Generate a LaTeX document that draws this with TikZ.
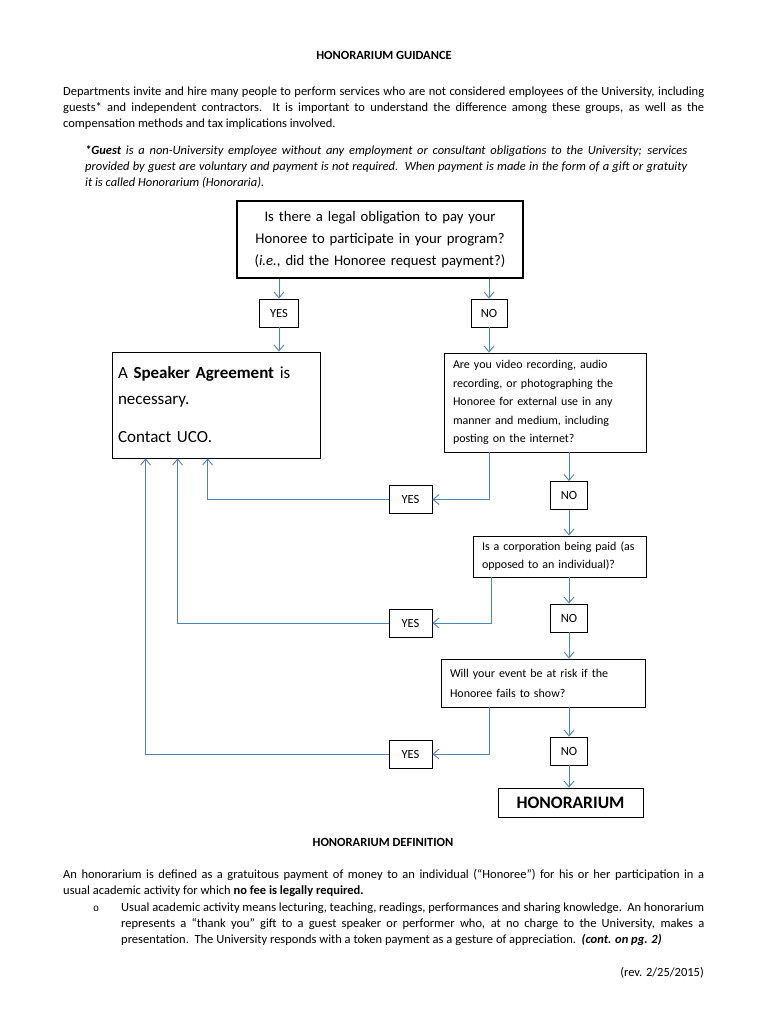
\documentclass[tikz,border=0pt]{standalone}
\usepackage{fontspec}
\setmainfont{Carlito}
\newfontfamily\bulletfont{Liberation Mono}
\usepackage{xcolor}
\usetikzlibrary{arrows.meta,positioning}
\definecolor{flowblue}{RGB}{79,129,189}

\begin{document}
\begin{tikzpicture}[
    x=1pt, y=-1pt,
    qbox/.style={rectangle, draw, line width=0.8pt, inner ysep=0pt, align=left, font=\fontsize{12}{18.5}\selectfont},
    tag/.style={rectangle, draw, line width=0.8pt, inner sep=0pt, minimum height=28pt, font=\fontsize{12.5}{14}\selectfont},
    arrow/.style={-{Straight Barb[length=6pt,width=10pt]}, draw=flowblue, line width=0.9pt},
    para/.style={anchor=base west, inner sep=0pt, align=justify, font=\fontsize{12.5}{16}\selectfont}
]
    \fill[white] (0,0) rectangle (768,1024);
    \useasboundingbox (0,0) rectangle (768,1024);

    % heading and introduction
    \node[anchor=base, font=\bfseries\fontsize{12.5}{15}\selectfont] (title) at (384,60) {HONORARIUM GUIDANCE};
    \node[para, text width=641pt] (intro) at (63,96) {Departments invite and hire many people to perform services who are not considered employees of the University, including\linebreak guests* and independent contractors.\ \ It is important to understand the difference among these groups, as well as the\linebreak compensation methods and tax implications involved.};
    \node[para, text width=602pt, font=\itshape\fontsize{12.5}{16}\selectfont] (guest) at (85,155) {\textbf{*Guest} is a non-University employee without any employment or consultant obligations to the University; services\linebreak provided by guest are voluntary and payment is not required.\ \ When payment is made in the form of a gift or gratuity\linebreak it is called Honorarium (Honoraria).};

    % flowchart
    \node[qbox, line width=2.5pt, minimum width=286pt, minimum height=77pt, text width=270pt, inner xsep=8pt, align=center, font=\fontsize{14.7}{22}\selectfont] (legal) at (380,239.5) {Is there a legal obligation to pay your\\Honoree to participate in your program?\\(\textit{i.e.}, did the Honoree request payment?)};
    \node[tag, minimum width=39pt] (yesA) at (279,313) {YES};
    \node[tag, minimum width=36pt] (noA) at (489,313) {NO};

    \node[qbox, minimum width=208pt, minimum height=106pt, text width=196pt, inner xsep=6pt, font=\fontsize{17}{25.5}\selectfont] (speaker) at (216,405) {A \textbf{Speaker Agreement} is\\necessary.\\[13pt]Contact UCO.};
    \node[qbox, minimum width=202pt, minimum height=99pt, text width=184pt, inner xsep=9pt] (video) at (545,402.5) {Are you video recording, audio\\recording, or photographing the\\Honoree for external use in any\\manner and medium, including\\posting on the internet?};
    \node[tag, minimum width=43pt] (yesB) at (410.5,499.5) {YES};
    \node[tag, minimum width=37pt] (noB) at (569,495.5) {NO};

    \node[qbox, minimum width=173pt, minimum height=41pt, text width=155pt, inner xsep=9pt, font=\fontsize{12}{18}\selectfont] (corp) at (559.5,556.5) {Is a corporation being paid (as\\opposed to an individual)?};
    \node[tag, minimum width=43pt] (yesC) at (410.5,623) {YES};
    \node[tag, minimum width=37pt] (noC) at (569,618) {NO};

    \node[qbox, minimum width=204pt, minimum height=48pt, text width=186pt, inner xsep=9pt, font=\fontsize{12}{20}\selectfont] (risk) at (543,683) {Will your event be at risk if the\\Honoree fails to show?};
    \node[tag, minimum width=43pt] (yesD) at (410.5,754) {YES};
    \node[tag, minimum width=37pt] (noD) at (569,751) {NO};

    \node[qbox, minimum width=145pt, minimum height=29pt, align=center, font=\bfseries\fontsize{17.5}{20}\selectfont] (honor) at (570.5,802.5) {HONORARIUM};

    % connectors
    \draw[arrow] (yesA |- legal.south) -- (yesA.north);
    \draw[arrow] (yesA.south) -- (yesA |- speaker.north);
    \draw[arrow] (noA |- legal.south) -- (noA.north);
    \draw[arrow] (noA.south) -- (noA |- video.north);

    \draw[arrow] (noA |- video.south) |- (yesB.east);
    \draw[arrow] (yesB.west) -| ([xshift=96pt]speaker.south west);
    \draw[arrow] (noB |- video.south) -- (noB.north);
    \draw[arrow] (noB.south) -- (noB |- corp.north);

    \draw[arrow] ([xshift=19pt]corp.south west) |- (yesC.east);
    \draw[arrow] (yesC.west) -| ([xshift=66pt]speaker.south west);
    \draw[arrow] (noC |- corp.south) -- (noC.north);
    \draw[arrow] (noC.south) -- (noC |- risk.north);

    \draw[arrow] (noA |- risk.south) |- (yesD.east);
    \draw[arrow] (yesD.west) -| ([xshift=34pt]speaker.south west);
    \draw[arrow] (noD |- risk.south) -- (noD.north);
    \draw[arrow] (noD.south) -- (noD |- honor.north);

    % definition
    \node[anchor=base, font=\bfseries\fontsize{12.5}{15}\selectfont] (deftitle) at (383,846.5) {HONORARIUM DEFINITION};
    \node[para, text width=641pt] (define) at (63,878) {An honorarium is defined as a gratuitous payment of money to an individual (“Honoree”) for his or her participation in a\linebreak usual academic activity for which \textbf{no fee is legally required.}};
    \node[anchor=base, inner sep=0pt, font=\bulletfont\fontsize{10}{12}\selectfont] (bullet) at (96,911) {o};
    \node[para, text width=583pt] (usual) at (121,911) {Usual academic activity means lecturing, teaching, readings, performances and sharing knowledge.\ \ An honorarium\linebreak represents a “thank you” gift to a guest speaker or performer who, at no charge to the University, makes a\linebreak presentation.\ \ The University responds with a token payment as a gesture of appreciation.\ \ \textbf{\textit{(cont. on pg. 2)}}};
    \node[anchor=base east, inner sep=0pt, font=\fontsize{12.5}{14}\selectfont] (rev) at (704,976) {(rev. 2/25/2015)};
\end{tikzpicture}
\end{document}
